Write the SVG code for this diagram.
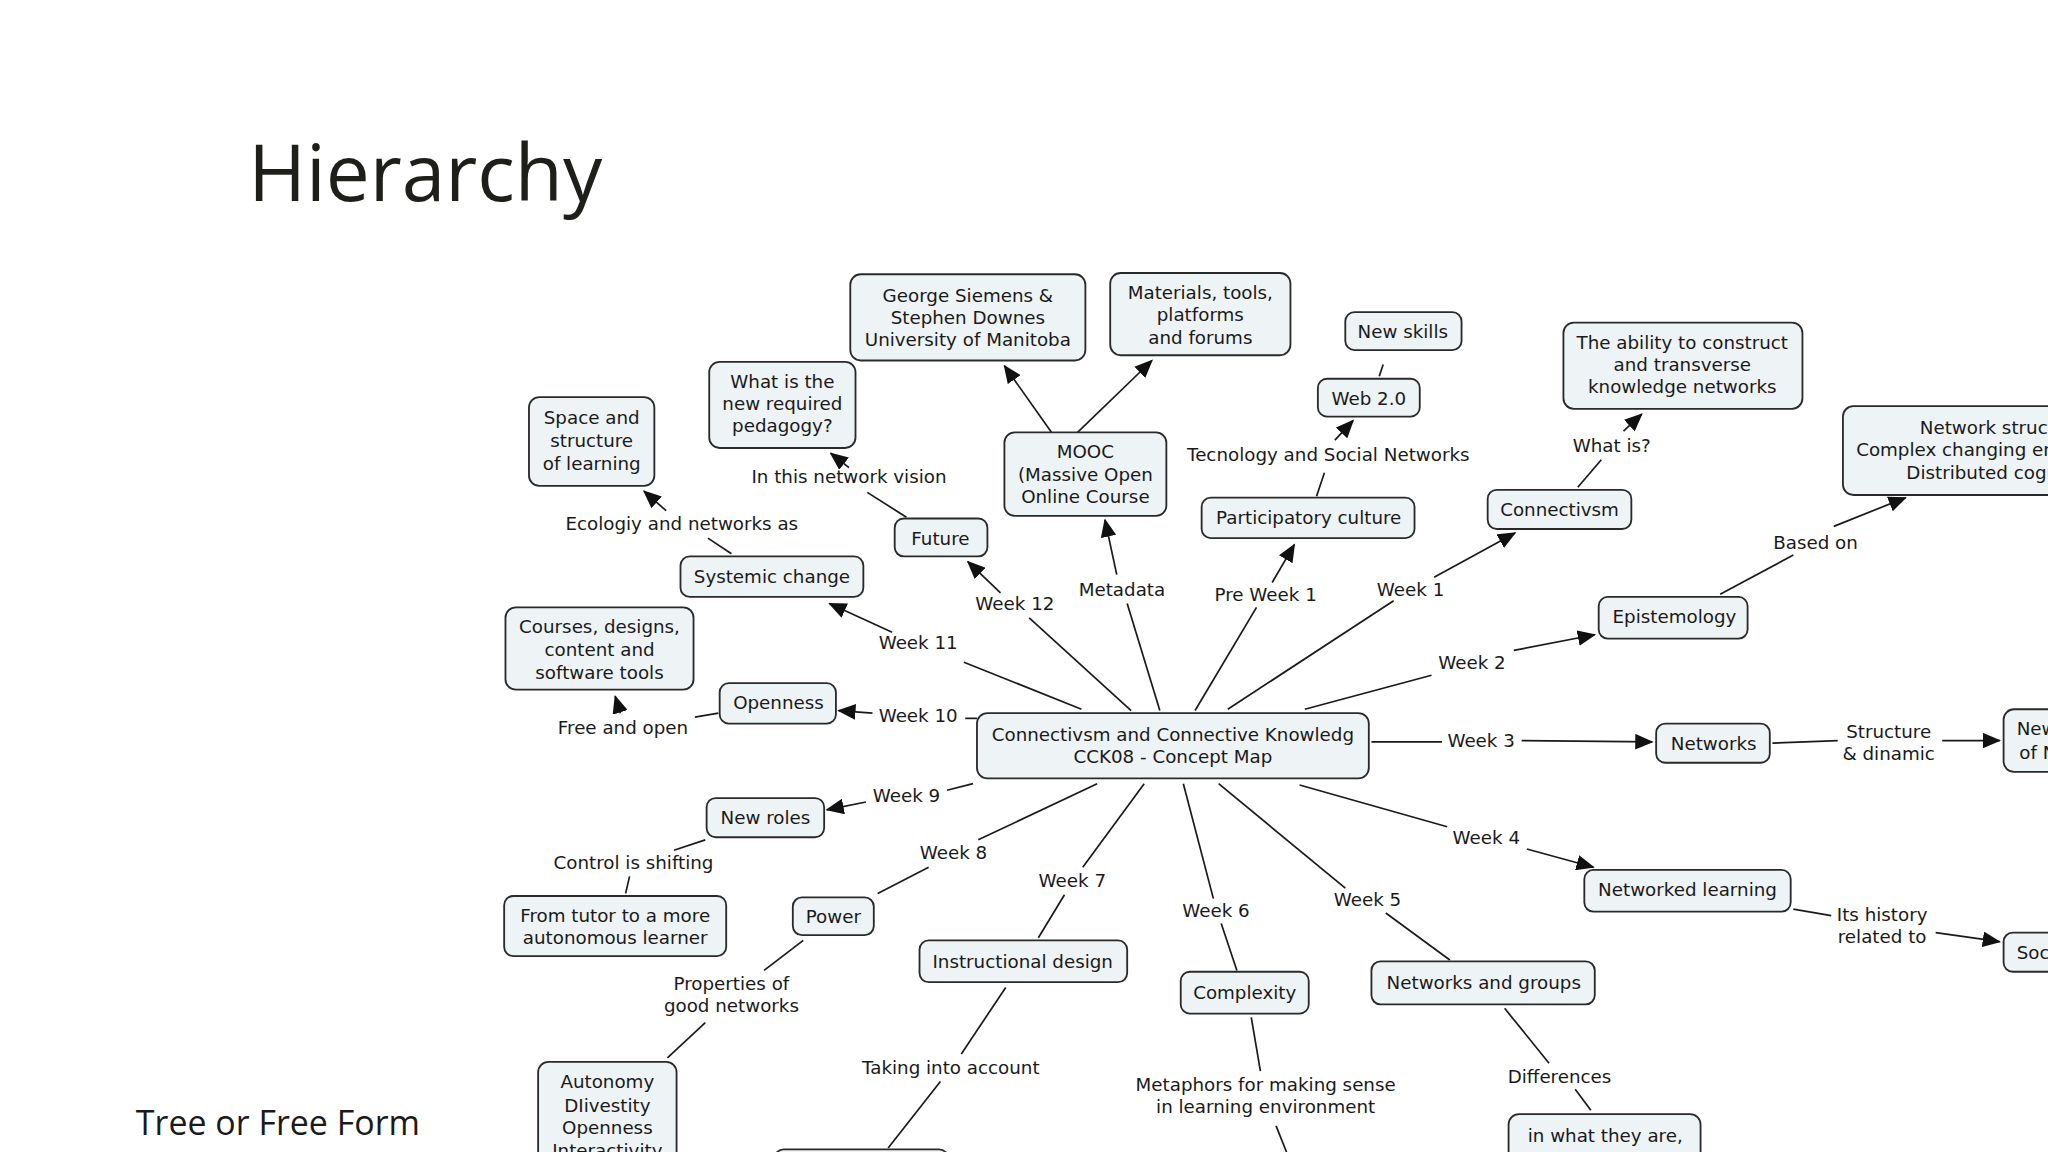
<svg xmlns="http://www.w3.org/2000/svg" width="2048" height="1152" viewBox="0 0 2048 1152">
<style>
.n rect{fill:#eef3f5;stroke:#2a2a2a;stroke-width:1.4}
text{font-family:"DejaVu Sans",Verdana,sans-serif;font-size:14px;fill:#1a1a1a;text-anchor:middle}
.c line{stroke:#1a1a1a;stroke-width:1.3}
.a{marker-end:url(#ah)}
</style>
<defs><marker id="ah" markerUnits="userSpaceOnUse" markerWidth="14" markerHeight="12" refX="13" refY="6" orient="auto"><path d="M0,0L14,6L0,12z" fill="#111"/></marker></defs>
<rect width="2048" height="1152" fill="#fff"/>
<g transform="scale(1.30612)">
<text x="190" y="154" style="font-family:'Open Sans',sans-serif;font-size:60px;text-anchor:start;fill:#1e1e1a">Hierarchy</text>
<text x="104" y="869" style="font-family:'Open Sans',sans-serif;font-size:26px;text-anchor:start">Tree or Free Form</text>
<g class="c">
<line x1="866" y1="544" x2="788" y2="473"/><line class="a" x1="766" y1="454" x2="741" y2="430"/>
<line x1="828" y1="543" x2="738" y2="507"/><line class="a" x1="683" y1="484" x2="635" y2="462"/>
<line x1="748" y1="550" x2="739" y2="550"/><line class="a" x1="668" y1="546" x2="642" y2="544"/>
<line x1="745" y1="600" x2="725" y2="605"/><line class="a" x1="663" y1="614" x2="633" y2="620"/>
<line x1="840" y1="600" x2="749" y2="643"/><line x1="711" y1="664" x2="672" y2="684"/>
<line x1="876" y1="600" x2="829" y2="664"/><line x1="815" y1="685" x2="795" y2="718"/>
<line x1="906" y1="600" x2="929" y2="688"/><line x1="935" y1="707" x2="947" y2="743"/>
<line x1="933" y1="600" x2="1030" y2="680"/><line x1="1061" y1="699" x2="1110" y2="735"/>
<line x1="995" y1="601" x2="1108" y2="633"/><line class="a" x1="1169" y1="650" x2="1220" y2="664"/>
<line x1="1050" y1="568" x2="1104" y2="568"/><line class="a" x1="1165" y1="567" x2="1265" y2="568"/>
<line x1="999" y1="543" x2="1096" y2="517"/><line class="a" x1="1159" y1="498" x2="1221" y2="486"/>
<line x1="940" y1="543" x2="1067" y2="460"/><line class="a" x1="1098" y1="442" x2="1160" y2="408"/>
<line x1="915" y1="544" x2="962" y2="465"/><line class="a" x1="974" y1="446" x2="991" y2="417"/>
<line x1="888" y1="544" x2="863" y2="462"/><line class="a" x1="855" y1="440" x2="846" y2="398"/>
<line class="a" x1="805" y1="331" x2="769" y2="280"/><line class="a" x1="825" y1="331" x2="882" y2="276"/>
<line x1="1008" y1="380" x2="1014" y2="362"/><line class="a" x1="1022" y1="337" x2="1036" y2="322"/>
<line x1="1056" y1="288" x2="1059" y2="279"/>
<line x1="1208" y1="373" x2="1226" y2="352"/><line class="a" x1="1243" y1="330" x2="1257" y2="317"/>
<line x1="1317" y1="455" x2="1373" y2="425"/><line class="a" x1="1404" y1="403" x2="1459" y2="381"/>
<line x1="1357" y1="569" x2="1407" y2="567"/><line class="a" x1="1487" y1="567" x2="1531" y2="567"/>
<line x1="1373" y1="696" x2="1402" y2="701"/><line class="a" x1="1482" y1="714" x2="1531" y2="721"/>
<line x1="694" y1="396" x2="664" y2="377"/><line class="a" x1="650" y1="358" x2="636" y2="347"/>
<line x1="560" y1="424" x2="542" y2="412"/><line class="a" x1="510" y1="391" x2="493" y2="376"/>
<line x1="550" y1="546" x2="532" y2="549"/><line class="a" x1="475" y1="546" x2="471" y2="533"/>
<line x1="540" y1="643" x2="516" y2="651"/><line x1="482" y1="671" x2="479" y2="684"/>
<line x1="615" y1="720" x2="585" y2="743"/><line x1="540" y1="783" x2="511" y2="810"/>
<line x1="770" y1="756" x2="736" y2="807"/><line x1="720" y1="828" x2="680" y2="879"/>
<line x1="958" y1="779" x2="965" y2="820"/><line x1="977" y1="862" x2="985" y2="882"/>
<line x1="1152" y1="772" x2="1186" y2="814"/><line x1="1206" y1="834" x2="1218" y2="850"/>
<text x="777" y="467">Week 12</text><text x="703" y="497">Week 11</text><text x="703" y="553">Week 10</text>
<text x="694" y="614">Week 9</text><text x="730" y="658">Week 8</text><text x="821" y="679">Week 7</text>
<text x="931" y="702">Week 6</text><text x="1047" y="694">Week 5</text><text x="1138" y="646">Week 4</text>
<text x="1134" y="572">Week 3</text><text x="1127" y="512">Week 2</text><text x="1080" y="456">Week 1</text>
<text x="969" y="460">Pre Week 1</text><text x="859" y="456">Metadata</text>
<text x="1017" y="353">Tecnology and Social Networks</text><text x="1234" y="346">What is?</text>
<text x="1390" y="420">Based on</text><text x="1446" y="565">Structure</text><text x="1446" y="582">&amp; dinamic</text>
<text x="1441" y="705">Its history</text><text x="1441" y="722">related to</text>
<text x="650" y="370">In this network vision</text><text x="522" y="406">Ecologiy and networks as</text>
<text x="477" y="562">Free and open</text><text x="485" y="665">Control is shifting</text>
<text x="560" y="758">Properties of</text><text x="560" y="775">good networks</text>
<text x="728" y="822">Taking into account</text>
<text x="969" y="835">Metaphors for making sense</text><text x="969" y="852">in learning environment</text>
<text x="1194" y="829">Differences</text>
</g>
<g id="n-george" class="n"><rect x="651" y="210" width="180" height="66" rx="8"/><text x="741" y="231">George Siemens &amp;</text><text x="741" y="248">Stephen Downes</text><text x="741" y="265">University of Manitoba</text></g>
<g id="n-materials" class="n"><rect x="850" y="209" width="138" height="63" rx="8"/><text x="919" y="229">Materials, tools,</text><text x="919" y="246">platforms</text><text x="919" y="263">and forums</text></g>
<g id="n-newskills" class="n"><rect x="1030" y="239" width="89" height="29" rx="7"/><text x="1074" y="259">New skills</text></g>
<g id="n-web20" class="n"><rect x="1009" y="290" width="78" height="29" rx="7"/><text x="1048" y="310">Web 2.0</text></g>
<g id="n-ability" class="n"><rect x="1197" y="247" width="183" height="66" rx="8"/><text x="1288" y="267">The ability to construct</text><text x="1288" y="284">and transverse</text><text x="1288" y="301">knowledge networks</text></g>
<g id="n-netstruct" class="n"><rect x="1411" y="311" width="250" height="68" rx="8"/><text x="1533" y="332">Network structure</text><text x="1533" y="349">Complex changing environment</text><text x="1533" y="367">Distributed cognition</text></g>
<g id="n-space" class="n"><rect x="405" y="304" width="96" height="68" rx="8"/><text x="453" y="325">Space and</text><text x="453" y="342">structure</text><text x="453" y="360">of learning</text></g>
<g id="n-whatis" class="n"><rect x="543" y="277" width="112" height="66" rx="8"/><text x="599" y="297">What is the</text><text x="599" y="314">new required</text><text x="599" y="331">pedagogy?</text></g>
<g id="n-mooc" class="n"><rect x="769" y="331" width="124" height="64" rx="8"/><text x="831" y="351">MOOC</text><text x="831" y="368">(Massive Open</text><text x="831" y="385">Online Course</text></g>
<g id="n-particip" class="n"><rect x="920" y="381" width="163" height="31" rx="7"/><text x="1002" y="401">Participatory culture</text></g>
<g id="n-connectivsm" class="n"><rect x="1139" y="375" width="110" height="30" rx="7"/><text x="1194" y="395">Connectivsm</text></g>
<g id="n-future" class="n"><rect x="685" y="397" width="71" height="29" rx="7"/><text x="720" y="417">Future</text></g>
<g id="n-systemic" class="n"><rect x="521" y="426" width="140" height="31" rx="7"/><text x="591" y="446">Systemic change</text></g>
<g id="n-epist" class="n"><rect x="1224" y="457" width="114" height="32" rx="7"/><text x="1282" y="477">Epistemology</text></g>
<g id="n-courses" class="n"><rect x="387" y="465" width="144" height="63" rx="8"/><text x="459" y="485">Courses, designs,</text><text x="459" y="502">content and</text><text x="459" y="520">software tools</text></g>
<g id="n-openness" class="n"><rect x="551" y="523" width="89" height="31" rx="7"/><text x="596" y="543">Openness</text></g>
<g id="n-center" class="n"><rect x="748" y="546" width="300" height="50" rx="8"/><text x="898" y="567">Connectivsm and Connective Knowledg</text><text x="898" y="584">CCK08 - Concept Map</text></g>
<g id="n-networks" class="n"><rect x="1268" y="554" width="87" height="30" rx="7"/><text x="1312" y="574">Networks</text></g>
<g id="n-new" class="n"><rect x="1534" y="543" width="130" height="48" rx="8"/><text x="1544" y="563" style="text-anchor:start">New</text><text x="1546" y="581" style="text-anchor:start">of Networks</text></g>
<g id="n-newroles" class="n"><rect x="541" y="611" width="90" height="30" rx="7"/><text x="586" y="631">New roles</text></g>
<g id="n-netlearn" class="n"><rect x="1213" y="666" width="158" height="32" rx="7"/><text x="1292" y="686">Networked learning</text></g>
<g id="n-power" class="n"><rect x="607" y="687" width="62" height="29" rx="7"/><text x="638" y="707">Power</text></g>
<g id="n-tutor" class="n"><rect x="386" y="686" width="170" height="46" rx="7"/><text x="471" y="706">From tutor to a more</text><text x="471" y="723">autonomous learner</text></g>
<g id="n-social" class="n"><rect x="1534" y="714" width="120" height="30" rx="7"/><text x="1544" y="734" style="text-anchor:start">Social networks</text></g>
<g id="n-instr" class="n"><rect x="704" y="720" width="159" height="32" rx="7"/><text x="783" y="741">Instructional design</text></g>
<g id="n-complex" class="n"><rect x="904" y="744" width="98" height="32" rx="7"/><text x="953" y="765">Complexity</text></g>
<g id="n-netgroups" class="n"><rect x="1050" y="736" width="171" height="33" rx="7"/><text x="1136" y="757">Networks and groups</text></g>
<g id="n-autonomy" class="n"><rect x="412" y="813" width="106" height="80" rx="8"/><text x="465" y="833">Autonomy</text><text x="465" y="851">DIivestity</text><text x="465" y="868">Openness</text><text x="465" y="886">Interactivity</text></g>
<g id="n-what" class="n"><rect x="1155" y="853" width="147" height="40" rx="8"/><text x="1229" y="874">in what they are,</text></g>
<g id="n-bottom" class="n"><rect x="593" y="880" width="133" height="40" rx="7"/></g>
</g>
</svg>
